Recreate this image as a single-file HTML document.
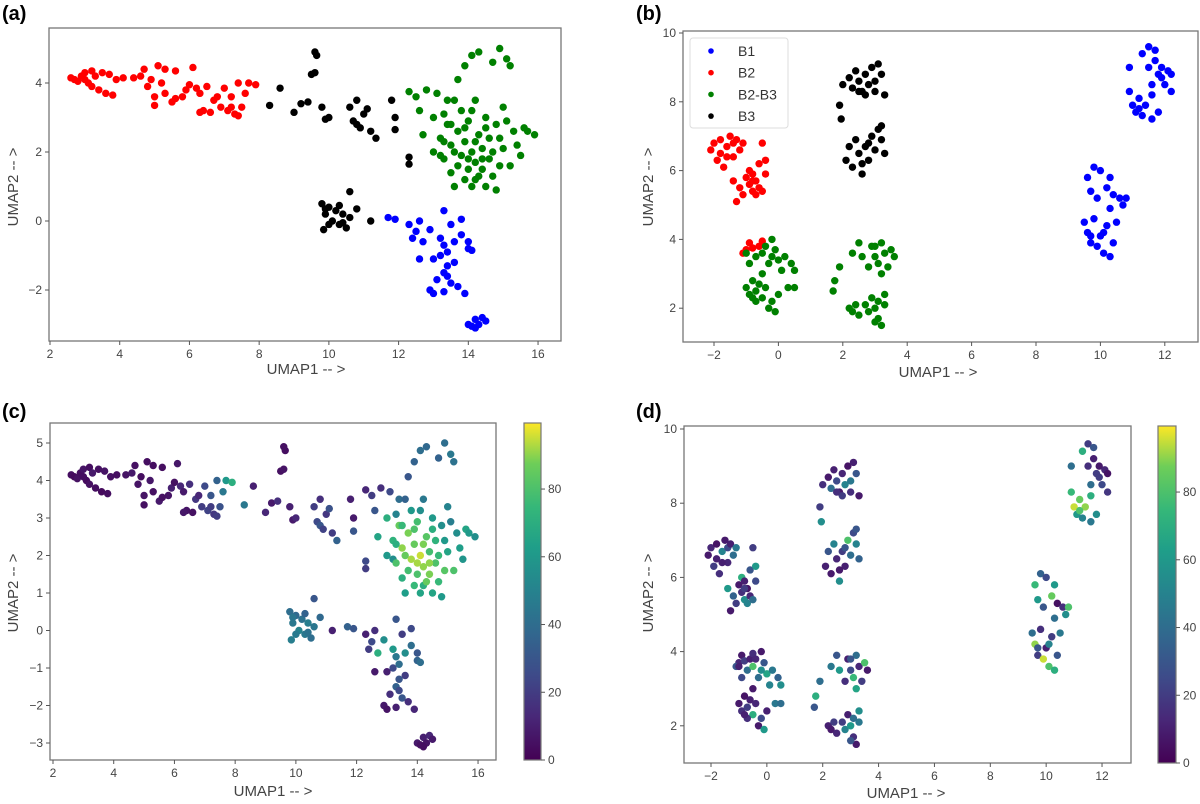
<!DOCTYPE html>
<html><head><meta charset="utf-8">
<style>
html,body{margin:0;padding:0;background:#fff;}
svg{display:block;font-family:"Liberation Sans",sans-serif;}
</style></head>
<body>
<svg id="fig" width="1200" height="804" viewBox="0 0 1200 804" xmlns="http://www.w3.org/2000/svg">
<defs>
<linearGradient id="viridis" x1="0" y1="1" x2="0" y2="0">
<stop offset="0" stop-color="#440154"/><stop offset="0.13" stop-color="#482878"/><stop offset="0.25" stop-color="#3e4a89"/><stop offset="0.38" stop-color="#31688e"/><stop offset="0.5" stop-color="#26828e"/><stop offset="0.63" stop-color="#1f9e89"/><stop offset="0.75" stop-color="#35b779"/><stop offset="0.88" stop-color="#6ece58"/><stop offset="1" stop-color="#fde725"/>
</linearGradient>
</defs>
</svg>
<script>
// ---------- Panel (a)/(c) data: [UMAP1, UMAP2, value] ----------
const aB2 = [[2.6,4.15,4],[2.7,4.1,3],[2.8,4.05,5],[2.9,4.2,4],[3.0,4.3,6],[3.1,4.0,3],[3.2,3.9,5],[3.2,4.35,4],[3.3,4.2,8],[3.4,3.8,4],[3.5,4.3,5],[3.6,3.7,3],[3.7,4.25,6],[3.8,3.65,4],[3.9,4.1,5],[4.1,4.15,4],[4.4,4.15,6],[4.6,4.2,8],[4.7,4.4,5],[4.9,4.1,4],[5.0,3.6,6],[5.0,3.35,5],[5.1,4.5,4],[5.2,4.0,7],[5.3,4.4,4],[5.3,3.7,5],[5.5,3.45,8],[5.6,4.35,4],[5.8,3.6,6],[5.9,3.8,10],[6.0,3.95,5],[6.1,4.45,7],[6.2,3.85,12],[6.3,3.7,8],[6.4,3.2,6],[6.5,3.9,15],[6.6,3.15,5],[6.7,3.5,18],[6.8,3.6,12],[6.9,3.3,20],[7.0,3.85,25],[7.1,3.2,22],[7.2,3.6,30],[7.3,3.1,18],[7.4,4.0,35],[7.4,3.05,20],[7.5,3.3,28],[7.6,3.7,45],[7.7,4.0,60],[7.9,3.95,70],[3.0,4.1,4],[4.8,3.9,6],[5.6,3.55,5],[6.3,3.15,7],[7.2,3.3,20]];
const aB3 = [[8.3,3.35,45],[8.6,3.85,10],[9.0,3.15,12],[9.2,3.4,8],[9.4,3.45,15],[9.5,4.25,5],[9.6,4.3,6],[9.65,4.8,4],[9.6,4.9,5],[9.8,3.3,10],[9.9,2.95,8],[10.0,3.0,12],[10.6,3.3,20],[10.7,2.9,25],[10.8,3.5,15],[10.8,2.8,30],[10.9,2.7,22],[11.0,3.1,18],[11.1,3.25,28],[11.2,2.6,20],[11.35,2.4,35],[11.8,3.5,10],[11.9,3.0,8],[11.9,2.65,30],[12.3,1.85,25],[12.3,1.65,20],[9.8,0.5,40],[9.9,0.2,45],[9.85,-0.25,48],[10.0,0.4,38],[10.1,0.0,50],[10.2,0.3,42],[10.3,-0.1,45],[10.3,0.45,35],[10.4,0.2,48],[10.5,-0.2,40],[10.6,0.1,44],[10.6,0.85,30],[10.8,0.35,38],[11.2,0.0,10],[10.0,-0.1,46],[10.4,-0.05,42],[9.9,0.35,44]];
const aB23 = [[12.3,3.75,12],[12.5,3.6,20],[12.6,3.2,30],[12.7,2.5,65],[12.8,3.8,15],[13.0,3.0,70],[13.0,2.0,60],[13.1,3.7,25],[13.2,2.4,72],[13.2,1.9,55],[13.3,1.8,80],[13.3,3.1,50],[13.4,2.8,85],[13.4,3.5,40],[13.5,1.4,70],[13.5,2.2,90],[13.6,3.5,35],[13.6,1.0,62],[13.7,2.6,88],[13.7,4.1,30],[13.8,1.9,92],[13.8,3.2,60],[13.9,2.3,85],[13.9,4.5,35],[13.9,1.2,75],[14.0,1.5,80],[14.0,2.9,78],[14.1,2.0,95],[14.1,4.8,40],[14.1,3.2,55],[14.2,1.2,70],[14.2,1.7,90],[14.2,3.5,45],[14.3,2.5,82],[14.3,4.9,38],[14.3,1.3,85],[14.4,1.5,88],[14.4,2.1,78],[14.5,1.0,65],[14.5,3.0,60],[14.6,1.8,80],[14.6,2.4,72],[14.7,1.3,75],[14.7,4.6,35],[14.8,2.8,55],[14.8,0.9,60],[14.9,5.0,40],[14.9,1.6,82],[15.0,2.1,65],[15.0,3.3,50],[15.1,4.7,45],[15.1,2.9,48],[15.2,1.6,80],[15.2,4.5,42],[15.3,2.6,55],[15.4,2.2,62],[15.5,1.9,58],[15.6,2.7,65],[15.7,2.6,60],[15.9,2.5,55],[13.6,2.0,85],[13.9,2.7,80],[14.0,1.8,92],[14.2,2.3,88],[14.4,1.8,90],[14.5,2.7,70],[13.7,1.6,78],[14.7,2.0,75],[14.1,1.0,65],[13.5,2.8,75],[14.9,2.4,60],[13.3,2.3,70]];
const aB1 = [[11.7,0.1,35],[11.9,0.05,30],[12.3,-0.1,10],[12.4,-0.5,20],[12.5,-0.3,25],[12.6,0.0,15],[12.6,-1.1,8],[12.7,-0.6,70],[12.9,-0.25,55],[13.0,-1.1,10],[12.9,-2.0,8],[13.0,-2.1,6],[13.1,-1.7,15],[13.2,-0.5,60],[13.2,-1.0,25],[13.3,0.3,30],[13.3,-1.5,35],[13.3,-2.05,10],[13.4,-0.9,40],[13.4,-1.6,25],[13.5,-0.1,20],[13.5,-1.8,30],[13.6,-1.2,20],[13.6,-0.6,55],[13.7,-1.9,15],[13.8,-0.4,40],[13.8,0.05,25],[13.9,-2.1,12],[14.0,-0.8,35],[14.0,-0.6,30],[14.1,-0.85,40],[14.0,-3.0,8],[14.1,-3.05,5],[14.2,-2.85,10],[14.3,-3.0,6],[14.4,-2.8,12],[14.5,-2.9,8],[14.2,-3.1,4],[13.3,-0.7,45],[13.4,-1.3,30]];
// ---------- Panel (b)/(d) data ----------
const bB2 = [[-2.1,6.6,8],[-2.0,6.8,12],[-1.9,6.3,20],[-1.8,6.9,6],[-1.8,6.5,10],[-1.7,6.1,15],[-1.6,6.7,50],[-1.5,7.0,8],[-1.4,6.8,25],[-1.4,6.4,12],[-1.3,6.9,10],[-1.2,6.6,40],[-1.1,6.8,45],[-1.4,5.7,60],[-1.2,5.5,35],[-1.1,5.3,20],[-1.0,5.8,8],[-0.9,5.6,15],[-0.9,6.0,70],[-0.8,5.4,55],[-0.8,5.9,10],[-0.7,5.3,50],[-0.7,5.7,6],[-0.6,6.2,30],[-0.6,5.5,12],[-0.5,6.8,20],[-0.4,6.3,60],[-0.4,5.9,25],[-1.3,5.1,8],[-0.5,5.4,40],[-1.0,3.7,12],[-0.9,3.9,8],[-0.8,3.75,20],[-0.6,3.8,10],[-0.5,3.95,15],[-1.1,3.6,30],[-1.6,6.4,10],[-0.8,5.7,20]];
const bB23 = [[-1.0,3.6,10],[-0.9,3.3,25],[-0.7,3.5,40],[-0.5,3.6,80],[-0.4,3.8,12],[-0.2,4.0,8],[-0.1,3.7,30],[0.0,3.4,65],[0.1,3.1,50],[0.2,3.5,45],[0.4,3.3,35],[0.5,3.1,55],[-1.0,2.6,8],[-0.9,2.4,15],[-0.8,2.8,6],[-0.7,2.5,20],[-0.6,2.7,10],[-0.5,2.3,70],[-0.4,2.6,12],[-0.3,2.0,8],[-0.2,2.2,25],[-0.1,1.9,60],[0.0,2.4,10],[-0.5,3.0,8],[-0.2,3.5,55],[0.3,2.6,45],[0.5,2.6,40],[-0.7,2.2,15],[1.7,2.5,30],[1.75,2.8,70],[1.9,3.2,40],[2.2,2.0,10],[2.3,1.9,8],[2.4,2.1,20],[2.5,1.8,12],[2.3,3.6,45],[2.5,3.9,30],[2.6,3.5,60],[2.8,3.2,15],[2.9,3.8,10],[3.0,3.5,25],[3.1,3.3,75],[3.2,3.9,40],[3.3,3.6,12],[3.4,3.2,20],[3.5,3.7,80],[3.6,3.5,8],[2.8,1.9,50],[2.9,2.3,10],[3.0,2.0,60],[3.1,1.7,15],[3.2,1.5,8],[3.3,2.1,45],[3.3,2.4,55],[3.0,1.6,30],[2.7,2.1,20],[3.2,3.0,65],[-0.3,3.3,40],[-0.8,2.3,10],[3.0,3.8,30],[3.1,2.2,40]];
const bB3 = [[1.9,7.9,20],[1.95,7.5,55],[2.0,8.5,15],[2.2,8.7,8],[2.3,8.4,40],[2.4,8.9,10],[2.5,8.6,25],[2.6,8.3,8],[2.7,8.8,12],[2.8,8.5,50],[2.9,9.0,6],[3.0,8.6,45],[3.1,9.1,10],[3.2,8.8,30],[3.3,8.2,8],[2.7,8.2,20],[3.0,8.3,15],[2.1,6.3,10],[2.2,6.7,30],[2.3,6.1,8],[2.4,6.9,50],[2.5,6.5,12],[2.6,5.9,55],[2.7,6.7,20],[2.8,6.3,10],[2.9,7.0,80],[3.0,6.6,40],[3.1,7.2,25],[3.2,6.9,50],[3.3,6.5,35],[3.2,7.3,30],[2.6,6.2,8],[2.5,8.3,15],[2.8,6.8,30]];
const bB1 = [[10.9,8.3,75],[10.9,9.0,40],[11.0,7.9,95],[11.1,7.7,60],[11.2,8.1,85],[11.3,7.6,50],[11.3,9.4,70],[11.4,7.9,90],[11.5,9.6,20],[11.5,9.0,15],[11.6,7.5,45],[11.6,8.2,70],[11.7,9.2,10],[11.8,7.7,55],[11.8,8.8,20],[11.9,9.0,8],[12.0,8.5,25],[12.1,8.9,12],[12.2,8.3,18],[12.2,8.8,6],[11.7,9.5,30],[11.6,8.5,40],[9.5,4.5,40],[9.6,4.2,90],[9.6,5.8,75],[9.7,3.9,20],[9.7,5.4,60],[9.8,6.1,35],[9.8,4.6,15],[9.9,3.8,95],[9.9,5.2,30],[10.0,4.1,10],[10.0,6.0,25],[10.1,3.6,80],[10.1,4.2,50],[10.2,4.4,20],[10.2,5.5,85],[10.3,3.5,70],[10.3,4.9,40],[10.3,5.8,60],[10.4,5.3,5],[10.4,3.9,30],[10.5,4.5,45],[10.6,5.2,15],[10.7,5.0,55],[10.8,5.2,80],[11.2,7.8,80],[11.9,8.7,20],[9.7,4.1,30]];

const NS = 'http://www.w3.org/2000/svg';
const svg = document.getElementById('fig');
const VIR = [[68,1,84],[72,40,120],[62,74,137],[49,104,142],[38,130,142],[31,158,137],[53,183,121],[110,206,88],[253,231,37]];
function viridis(t){t=Math.max(0,Math.min(1,t));const f=t*(VIR.length-1);const i=Math.min(VIR.length-2,Math.floor(f));const u=f-i;const c=VIR[i].map((v,k)=>Math.round(v+(VIR[i+1][k]-v)*u));return 'rgb('+c.join(',')+')';}
function mk(tag, attrs, parent){const e=document.createElementNS(NS,tag);for(const k in attrs)e.setAttribute(k,attrs[k]);(parent||svg).appendChild(e);return e;}

function panel(P){
  const g = mk('g',{});
  
  
  const sx = v => P.x0px + (v - P.x0) * P.kx;
  const sy = v => P.y0px - (v - P.y0) * P.ky;
  const t = mk('text',{x:P.tx,y:P.ty,'font-size':20,'font-weight':'bold',fill:'#000'},g);
  t.textContent='('+P.id+')';
  
  
  P.groups.forEach(gr=>{
    gr.pts.forEach(p=>{
      const c = mk('circle',{cx:sx(p[0]),cy:sy(p[1]),r:3.7,fill: P.cmap ? viridis(p[2]/P.vmax) : gr.color},g);
      
      
    });
  });
  const box = mk('rect',{x:P.L,y:P.T,width:P.R-P.L,height:P.B-P.T,fill:'none',stroke:'#777','stroke-width':1.3},g);
  
  
  P.xt.forEach(v=>{
    const x=sx(v);
    mk('line',{x1:x,x2:x,y1:P.B,y2:P.B+4,stroke:'#555'},g);
    const l=mk('text',{x:x,y:P.B+17,'font-size':12,'text-anchor':'middle',fill:'#444'},g);
    l.textContent=(v<0?'\u2212'+(-v):v);
    
    
  });
  P.yt.forEach(v=>{
    const y=sy(v);
    mk('line',{x1:P.L-4,x2:P.L,y1:y,y2:y,stroke:'#555'},g);
    const l=mk('text',{x:P.L-7,y:y+4,'font-size':12,'text-anchor':'end',fill:'#444'},g);
    l.textContent=(v<0?'\u2212'+(-v):v);
    
    
  });
  const xl=mk('text',{x:P.xlx,y:P.xly,'font-size':15,'text-anchor':'middle',fill:'#444'},g);
  xl.textContent='UMAP1 -- >';
  
  
  const yl=mk('text',{x:0,y:0,'font-size':15,'text-anchor':'middle',fill:'#444',transform:'translate('+P.ylx+','+P.yly+') rotate(-90)'},g);
  yl.textContent='UMAP2 -- >';
  
  
  if(P.cmap){
    const cb=mk('rect',{x:P.cbL,y:P.T,width:P.cbR-P.cbL,height:P.B-P.T,fill:'url(#viridis)',stroke:'#777','stroke-width':1.2},g);
    
    
    P.cbt.forEach(v=>{
      const y=P.B-(v/P.vmax)*(P.B-P.T);
      mk('line',{x1:P.cbR,x2:P.cbR+4,y1:y,y2:y,stroke:'#555'},g);
      const l=mk('text',{x:P.cbR+7,y:y+4,'font-size':12,fill:'#444'},g);
      l.textContent=v;
      
      
    });
  }
  return g;
}
const colA=[{name:'b2',color:'#ff0000',pts:aB2},{name:'b3',color:'#000',pts:aB3},{name:'b2-b3',color:'#008000',pts:aB23},{name:'b1',color:'#0000ff',pts:aB1}];
const colB=[{name:'b2',color:'#ff0000',pts:bB2},{name:'b3',color:'#000',pts:bB3},{name:'b2-b3',color:'#008000',pts:bB23},{name:'b1',color:'#0000ff',pts:bB1}];
const xtA=[2,4,6,8,10,12,14,16], ytA=[-2,0,2,4], ytC=[-3,-2,-1,0,1,2,3,4,5];
const xtB=[-2,0,2,4,6,8,10,12], ytB=[2,4,6,8,10], cbTicks=[0,20,40,60,80];

panel({id:'a',tx:2,ty:20,x0:2,x0px:50,kx:34.86,y0:4,y0px:83,ky:34.5,L:49,T:28,R:561,B:341,xt:xtA,yt:ytA,groups:colA,xlx:306,xly:374,ylx:18,yly:187});
const pb=panel({id:'b',tx:636,ty:20,x0:-2,x0px:714,kx:32.2,y0:10,y0px:33,ky:34.4,L:683,T:31,R:1198,B:342,xt:xtB,yt:ytB,groups:colB,xlx:938,xly:377,ylx:653,yly:187});
panel({id:'c',tx:2,ty:418,x0:2,x0px:53,kx:30.36,y0:5,y0px:443,ky:37.5,L:50,T:423,R:496,B:760,xt:xtA,yt:ytC,groups:colA,xlx:273,xly:796,ylx:18,yly:593,cmap:true,vmax:99.5,cbL:524,cbR:541,cbt:cbTicks});
panel({id:'d',tx:636,ty:418,x0:-2,x0px:711,kx:27.93,y0:10,y0px:429,ky:37.1,L:684,T:426,R:1131,B:763,xt:xtB,yt:ytB,groups:colB,xlx:906,xly:798,ylx:653,yly:593,cmap:true,vmax:99.5,cbL:1158,cbR:1176,cbt:cbTicks});

const lg=mk('g',{},pb);


mk('rect',{x:690,y:38,width:98,height:90,rx:3,fill:'#fff','fill-opacity':0.85,stroke:'#ddd'},lg);
const legNames=['B1','B2','B2-B3','B3'], legColors=['#0000ff','#ff0000','#008000','#000'];
legNames.forEach((n,i)=>{
  const y=51+i*21.7;
  const d=mk('circle',{cx:711,cy:y,r:2.8,fill:legColors[i]},lg);
  
  
  const t=mk('text',{x:738,y:y+5,'font-size':14,fill:'#333'},lg);
  t.textContent=n;
  
  
});
</script>
</body></html>
